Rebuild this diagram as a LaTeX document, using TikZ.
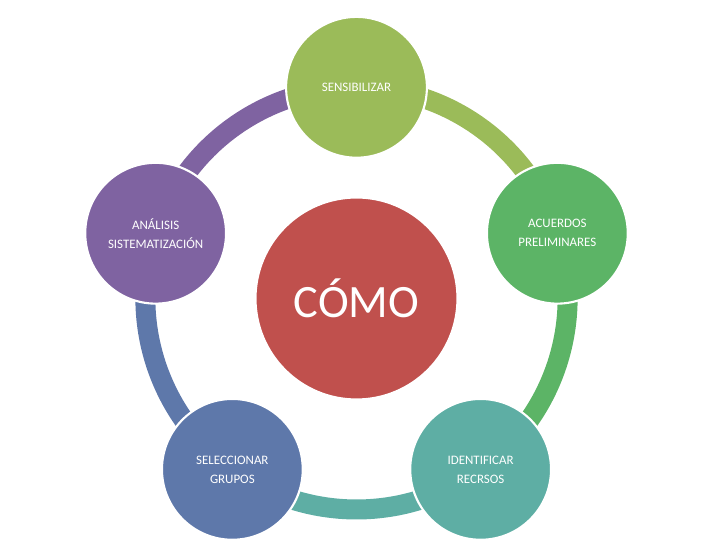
\documentclass[tikz,border=0pt]{standalone}
\usepackage{fontspec}
\setmainfont{Carlito}
\usepackage{tikz}
\usetikzlibrary{backgrounds}
\definecolor{cycgreen}{HTML}{9BBB59}
\definecolor{cycleaf}{HTML}{5CB466}
\definecolor{cycteal}{HTML}{5EAEA4}
\definecolor{cycblue}{HTML}{5E78AA}
\definecolor{cycpurple}{HTML}{7F63A1}
\definecolor{cycred}{HTML}{C0504D}

\begin{document}
\begin{tikzpicture}[
  font=\fontsize{9.2}{13.5}\selectfont,
  every node/.style={align=center,text=white},
  stage/.style={circle,draw=white,line width=1.5pt,minimum size=3.52cm,inner sep=0pt},
  hub/.style={circle,draw=white,line width=1.5pt,fill=cycred,minimum size=5.05cm,
              inner sep=0pt,font=\fontsize{33}{38}\selectfont},
  ring/.style={line width=0.5cm,bend left=36,looseness=0.94}
]
\useasboundingbox (-8.9125,-6.1875) rectangle (9.2875,7.4625);

\node[hub] (como) at (0,0) {CÓMO};

\node[stage,fill=cycgreen]  (sens) at (90:5.28)   {SENSIBILIZAR};
\node[stage,fill=cycleaf]   (acue) at (18:5.28)   {ACUERDOS\\PRELIMINARES};
\node[stage,fill=cycteal]   (iden) at (-54:5.28)  {IDENTIFICAR\\RECRSOS};
\node[stage,fill=cycblue]   (sele) at (-126:5.28) {SELECCIONAR\\GRUPOS};
\node[stage,fill=cycpurple] (anal) at (162:5.28)  {ANÁLISIS\\SISTEMATIZACIÓN};

\begin{scope}[on background layer]
\draw[ring,draw=cycgreen]  (sens.center) to (acue.center);
\draw[ring,draw=cycleaf]   (acue.center) to (iden.center);
\draw[ring,draw=cycteal]   (iden.center) to (sele.center);
\draw[ring,draw=cycblue]   (sele.center) to (anal.center);
\draw[ring,draw=cycpurple] (anal.center) to (sens.center);
\end{scope}
\end{tikzpicture}
\end{document}
